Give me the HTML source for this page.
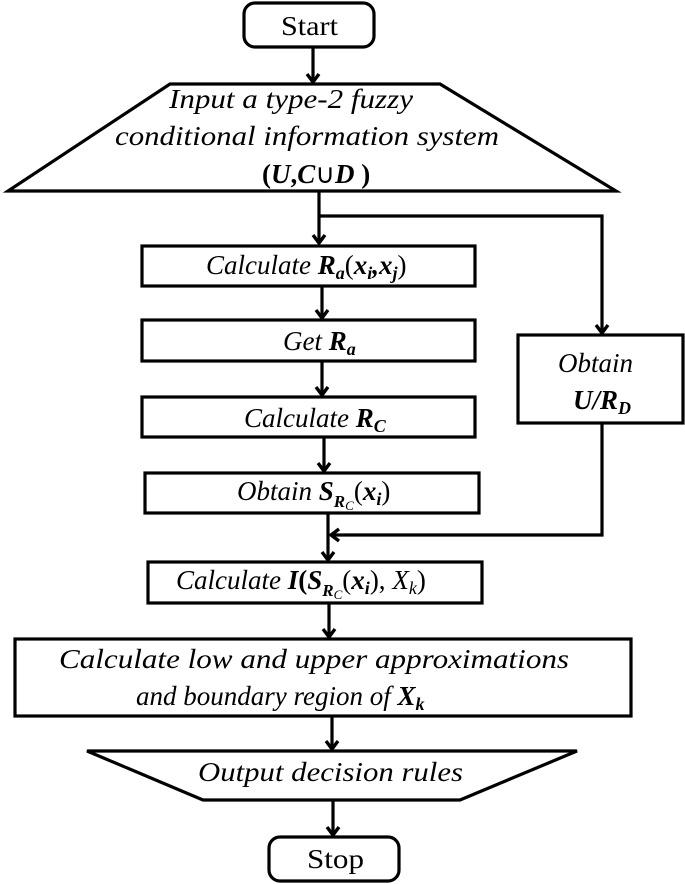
<!DOCTYPE html>
<html><head><meta charset="utf-8"><style>
html,body{margin:0;padding:0;background:#fff;}
svg{display:block;}
text{font-family:"Liberation Serif",serif;font-style:italic;font-size:27px;fill:#000;}
.b{font-weight:bold;}
.n{font-style:normal;}
</style></head><body>
<svg width="685" height="884" viewBox="0 0 685 884" xmlns="http://www.w3.org/2000/svg">
<g fill="none" stroke="#000" stroke-width="3.2">
<rect x="244" y="3" width="130" height="44" rx="11"/>
<polygon points="170,84 440,84 616,191 8,191"/>
<rect x="142" y="246" width="333" height="40"/>
<rect x="142" y="320" width="333" height="41"/>
<rect x="142" y="397" width="333" height="40"/>
<rect x="145" y="473" width="334" height="40"/>
<rect x="518" y="335" width="165" height="88"/>
<rect x="148" y="562" width="334" height="41"/>
<rect x="15" y="639" width="616" height="77"/>
<polygon points="87,751 577,751 460,800 203,800"/>
<rect x="269" y="837" width="130" height="44" rx="11"/>
<!-- connectors -->
<polyline points="313,47 313,81"/>
<polyline points="319,192 319,243"/>
<polyline points="319,216 602,216 602,332"/>
<polyline points="322,286 322,317"/>
<polyline points="322,361 322,394"/>
<polyline points="324,437 324,470"/>
<polyline points="328,513 328,559"/>
<polyline points="602,423 602,535 331,535"/>
<polyline points="329,603 329,636"/>
<polyline points="332,716 332,748"/>
<polyline points="333,800 333,834"/>
<!-- arrowheads -->
<g stroke-width="3.4">
<polyline points="307,74 313,82 319,74"/>
<polyline points="313,235 319,243 325,235"/>
<polyline points="596,325 602,333 608,325"/>
<polyline points="316,310 322,318 328,310"/>
<polyline points="316,387 322,395 328,387"/>
<polyline points="318,463 324,471 330,463"/>
<polyline points="322,552 328,560 334,552"/>
<polyline points="339,529 331,535 339,541"/>
<polyline points="323,629 329,637 335,629"/>
<polyline points="326,741 332,749 338,741"/>
<polyline points="327,827 333,835 339,827"/>
</g>
</g>
<text class="n" x="281" y="35" textLength="57" lengthAdjust="spacingAndGlyphs">Start</text>
<text x="169" y="108" textLength="244" lengthAdjust="spacingAndGlyphs">Input a type-2 fuzzy</text>
<text x="115" y="145" textLength="384" lengthAdjust="spacingAndGlyphs">conditional information system</text>
<text class="n b" x="262" y="183">(<tspan font-style="italic">U</tspan>,<tspan font-style="italic">C</tspan><tspan font-weight="normal">∪</tspan><tspan font-style="italic">D</tspan> )</text>
<text x="206" y="274">Calculate <tspan class="b">R</tspan><tspan class="b" font-size="18" dy="5">a</tspan><tspan class="n" dy="-5">(</tspan><tspan class="b">x</tspan><tspan class="b" font-size="18" dy="5">i</tspan><tspan class="b" dy="-5">,x</tspan><tspan class="b" font-size="18" dy="5">j</tspan><tspan class="n" dy="-5">)</tspan></text>
<text x="283" y="350">Get <tspan class="b">R</tspan><tspan class="b" font-size="18" dy="5">a</tspan></text>
<text x="244" y="427">Calculate <tspan class="b">R</tspan><tspan class="b" font-size="18" dy="5">C</tspan></text>
<text x="237" y="500">Obtain <tspan class="b">S</tspan><tspan class="b" font-size="17" dy="7">R</tspan><tspan font-size="13" dy="3">C</tspan><tspan class="n" dy="-10">(</tspan><tspan class="b">x</tspan><tspan class="b" font-size="18" dy="5">i</tspan><tspan class="n" dy="-5">)</tspan></text>
<text x="558" y="372">Obtain</text>
<text class="b" x="573" y="409">U/R<tspan font-size="18" dy="5">D</tspan></text>
<text x="176" y="589">Calculate <tspan class="b">I</tspan><tspan class="b n">(</tspan><tspan class="b">S</tspan><tspan class="b" font-size="17" dy="7">R</tspan><tspan font-size="13" dy="3">C</tspan><tspan class="n" dy="-10">(</tspan><tspan class="b">x</tspan><tspan class="b" font-size="18" dy="5">i</tspan><tspan class="n" dy="-5">),</tspan> <tspan>X</tspan><tspan font-size="18" dy="5">k</tspan><tspan class="n" dy="-5">)</tspan></text>
<text x="59" y="668" textLength="510" lengthAdjust="spacingAndGlyphs">Calculate low and upper approximations</text>
<text x="136" y="705">and boundary region of  <tspan class="b">X</tspan><tspan class="b" font-size="18" dy="5">k</tspan></text>
<text x="198" y="781" textLength="265" lengthAdjust="spacingAndGlyphs">Output decision rules</text>
<text class="n" x="307" y="868" textLength="57" lengthAdjust="spacingAndGlyphs">Stop</text>
</svg>
</body></html>
